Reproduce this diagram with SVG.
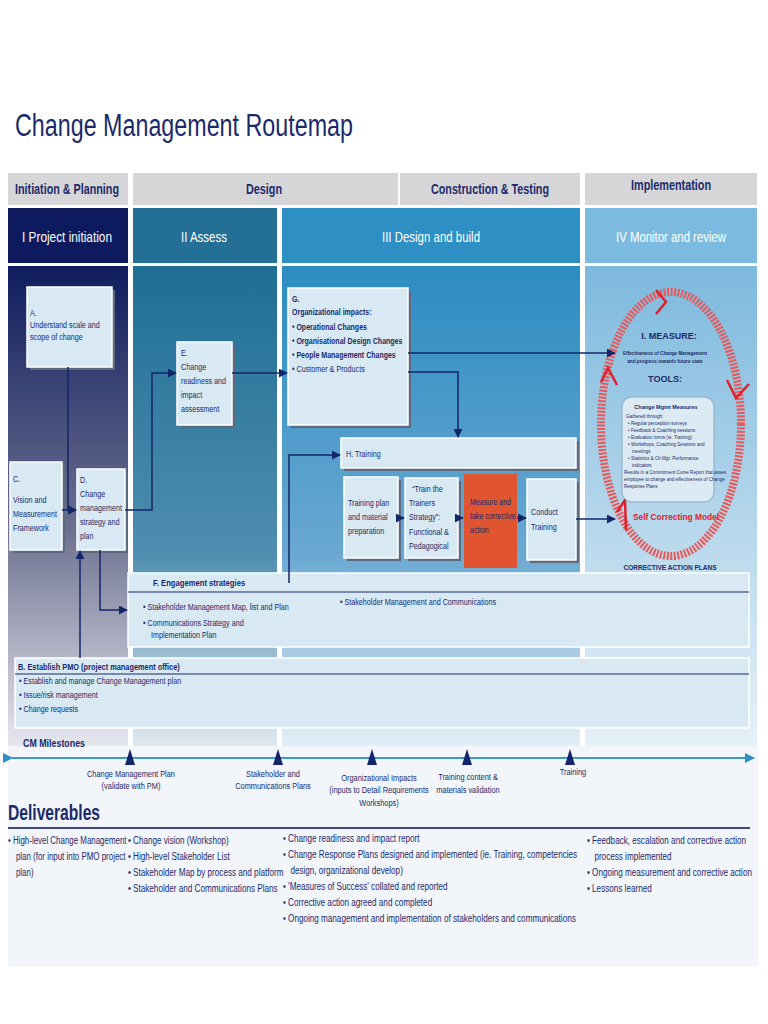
<svg xmlns="http://www.w3.org/2000/svg" width="768" height="1024" viewBox="0 0 768 1024">
<defs>
<style>
text{font-family:"Liberation Sans",Arial,sans-serif;}
.hd{font-size:15px;font-weight:bold;fill:#1b2a6b;text-anchor:middle}
.ph{font-size:15px;fill:#fff;text-anchor:middle}
.box{fill:#d8e9f3;stroke:#fff;stroke-width:1.5}
.sh{fill:#5d6b80}
.t{font-size:9px;fill:#1b2a6b}
.tb{font-size:9px;fill:#1b2a6b;font-weight:bold}
.c{fill:none;stroke:#13266a;stroke-width:1.5}
.ms{font-size:9.5px;fill:#1b2a6b;text-anchor:middle}
.dl{font-size:11px;fill:#1b2a6b}
</style>
<marker id="ar" viewBox="0 0 10 10" refX="9" refY="5" markerWidth="6" markerHeight="6" orient="auto"><path d="M0,0L10,5L0,10z" fill="#13266a"/></marker>
<marker id="ar2" viewBox="0 0 10 10" refX="9" refY="5" markerWidth="5" markerHeight="5" orient="auto"><path d="M0,0L10,5L0,10z" fill="#2e8fc4"/></marker>
<linearGradient id="g1" x1="0" y1="0" x2="0" y2="1"><stop offset="0" stop-color="#0f1d5e"/><stop offset="0.55" stop-color="#6d7190"/><stop offset="1" stop-color="#e6e7ee"/></linearGradient>
<linearGradient id="g2" x1="0" y1="0" x2="0" y2="1"><stop offset="0" stop-color="#1f6e94"/><stop offset="0.6" stop-color="#4f8eb0"/><stop offset="1" stop-color="#dfe8ef"/></linearGradient>
<linearGradient id="g3" x1="0" y1="0" x2="0" y2="1"><stop offset="0" stop-color="#2c8cc2"/><stop offset="0.6" stop-color="#6aa8d1"/><stop offset="1" stop-color="#e3eef6"/></linearGradient>
<linearGradient id="g4" x1="0" y1="0" x2="0" y2="1"><stop offset="0" stop-color="#7db9dd"/><stop offset="1" stop-color="#e6f1f8"/></linearGradient>
</defs>
<rect width="768" height="1024" fill="#fff"/>
<text x="15" y="136" font-size="31" fill="#1b2a6b" textLength="338" lengthAdjust="spacingAndGlyphs">Change Management Routemap</text>

<g id="headers">
<rect x="8" y="173" width="120" height="32" fill="#d6d6d8"/>
<rect x="133" y="173" width="265" height="32" fill="#d6d6d8"/>
<rect x="400" y="173" width="180" height="32" fill="#d6d6d8"/>
<rect x="585" y="173" width="172" height="32" fill="#d6d6d8"/>
<text x="67" y="194" class="hd" textLength="104" lengthAdjust="spacingAndGlyphs">Initiation &amp; Planning</text>
<text x="264" y="194" class="hd" textLength="36" lengthAdjust="spacingAndGlyphs">Design</text>
<text x="490" y="194" class="hd" textLength="118" lengthAdjust="spacingAndGlyphs">Construction &amp; Testing</text>
<text x="671" y="190" class="hd" textLength="80" lengthAdjust="spacingAndGlyphs">Implementation</text>
<rect x="8" y="208" width="120" height="55" fill="#0d1a5e"/>
<rect x="133" y="208" width="144" height="55" fill="#236f96"/>
<rect x="282" y="208" width="298" height="55" fill="#2e8fc4"/>
<rect x="585" y="208" width="172" height="55" fill="#7bbbe0"/>
<text x="67" y="242" class="ph" textLength="90" lengthAdjust="spacingAndGlyphs">I Project initiation</text>
<text x="204" y="242" class="ph" textLength="46" lengthAdjust="spacingAndGlyphs">II Assess</text>
<text x="431" y="242" class="ph" textLength="98" lengthAdjust="spacingAndGlyphs">III Design and build</text>
<text x="671" y="242" class="ph" textLength="110" lengthAdjust="spacingAndGlyphs">IV Monitor and review</text>
<rect x="8" y="266" width="120" height="480" fill="url(#g1)"/>
<rect x="133" y="266" width="144" height="480" fill="url(#g2)"/>
<rect x="282" y="266" width="298" height="480" fill="url(#g3)"/>
<rect x="585" y="266" width="172" height="480" fill="url(#g4)"/>
</g>

<g id="nodeA"><rect x="30" y="290" width="85" height="80" class="sh"/><rect x="27" y="287" width="85" height="80" class="box"/>
<text class="t" transform="translate(30,0) scale(0.8,1)"><tspan x="0" y="316">A.</tspan><tspan x="0" y="328">Understand scale and</tspan><tspan x="0" y="340">scope of change</tspan></text></g>
<g id="nodeC"><rect x="13" y="465" width="52" height="88" class="sh"/><rect x="10" y="462" width="52" height="88" class="box"/>
<text class="t" transform="translate(13,0) scale(0.8,1)"><tspan x="0" y="482">C.</tspan><tspan x="0" y="503">Vision and</tspan><tspan x="0" y="517">Measurement</tspan><tspan x="0" y="531">Framework</tspan></text></g>
<g id="nodeD"><rect x="80" y="472" width="48" height="81" class="sh"/><rect x="77" y="469" width="48" height="81" class="box"/>
<text class="t" transform="translate(80,0) scale(0.8,1)"><tspan x="0" y="483">D.</tspan><tspan x="0" y="497">Change</tspan><tspan x="0" y="511">management</tspan><tspan x="0" y="525">strategy and</tspan><tspan x="0" y="539">plan</tspan></text></g>
<g id="nodeE"><rect x="180" y="345" width="55" height="83" class="sh"/><rect x="177" y="342" width="55" height="83" class="box"/>
<text class="t" transform="translate(181,0) scale(0.8,1)"><tspan x="0" y="356">E.</tspan><tspan x="0" y="370">Change</tspan><tspan x="0" y="384">readiness and</tspan><tspan x="0" y="398">impact</tspan><tspan x="0" y="412">assessment</tspan></text></g>
<g id="nodeG"><rect x="291" y="291" width="120" height="137" class="sh"/><rect x="288" y="288" width="120" height="137" class="box"/>
<text class="tb" transform="translate(292,0) scale(0.78,1)"><tspan x="0" y="302">G.</tspan><tspan x="0" y="315">Organizational impacts:</tspan><tspan x="0" y="330">•  Operational Changes</tspan><tspan x="0" y="344">•  Organisational Design Changes</tspan><tspan x="0" y="358">•  People Management Changes</tspan></text>
<text class="t" transform="translate(292,0) scale(0.8,1)" x="0" y="372">•  Customer &amp; Products</text></g>
<g id="nodeH"><rect x="344" y="441" width="235" height="30" class="sh"/><rect x="341" y="438" width="235" height="30" class="box"/>
<text class="t" transform="translate(346,0) scale(0.8,1)" x="0" y="457">H. Training</text></g>
<g id="nodeTP"><rect x="347" y="480" width="54" height="81" class="sh"/><rect x="344" y="477" width="54" height="81" class="box"/>
<text class="t" transform="translate(348,0) scale(0.8,1)"><tspan x="0" y="506">Training plan</tspan><tspan x="0" y="520">and material</tspan><tspan x="0" y="534">preparation</tspan></text></g>
<g id="nodeTT"><rect x="408" y="481" width="53" height="80" class="sh"/><rect x="405" y="478" width="53" height="80" class="box"/>
<text class="t" transform="translate(409,0) scale(0.8,1)"><tspan x="4" y="492">“Train the</tspan><tspan x="0" y="506">Trainers</tspan><tspan x="0" y="520">Strategy”:</tspan><tspan x="0" y="535">Functional &amp;</tspan><tspan x="0" y="549">Pedagogical</tspan></text></g>
<g id="nodeM"><rect x="464" y="474" width="53" height="94" fill="#e0552f"/>
<text class="t" fill="#2a2a6a" transform="translate(470,0) scale(0.78,1)"><tspan x="0" y="505">Measure and</tspan><tspan x="0" y="519">take corrective</tspan><tspan x="0" y="533">action</tspan></text></g>
<g id="nodeCT"><rect x="530" y="482" width="49" height="81" class="sh"/><rect x="527" y="479" width="49" height="81" class="box"/>
<text class="t" transform="translate(531,0) scale(0.8,1)"><tspan x="0" y="515">Conduct</tspan><tspan x="0" y="530">Training</tspan></text></g>

<g id="measure">
<ellipse cx="671" cy="424" rx="70" ry="132" fill="none" stroke="#e8595a" stroke-width="8" stroke-dasharray="2 1.5"/>
<g fill="none" stroke="#e0202a" stroke-width="2.5">
<path d="M656,290 L666,302 L656,314"/><path d="M727,380 L736,398 L749,384"/><path d="M601,382 L608,368 L617,385"/><path d="M617,512 L625,500 L626,530"/>
</g>
<text x="669" y="339" font-size="9" fill="#1b2a6b" font-weight="bold" text-anchor="middle">I.  MEASURE:</text>
<text font-size="5.5" fill="#1b2a6b" font-weight="bold" text-anchor="middle" transform="translate(665,0) scale(0.85,1)"><tspan x="0" y="355">Effectiveness of Change Management</tspan><tspan x="0" y="363">and progress towards future state</tspan></text>
<text x="665" y="382" font-size="9" fill="#1b2a6b" font-weight="bold" text-anchor="middle">TOOLS:</text>
<rect x="622" y="397" width="92" height="105" rx="10" fill="#dceaf3" stroke="#8aaac8"/>
<text x="666" y="409" font-size="5.5" fill="#1b2a6b" font-weight="bold" text-anchor="middle">Change Mgmt Measures</text>
<text font-size="4.6" fill="#1b2a6b"><tspan x="626" y="418">Gathered through:</tspan><tspan x="628" y="425">• Regular perception surveys</tspan><tspan x="628" y="432">• Feedback &amp; Coaching sessions</tspan><tspan x="628" y="439">• Evaluation forms (ie. Training)</tspan><tspan x="628" y="446">• Workshops, Coaching Sessions and</tspan><tspan x="632" y="453">meetings</tspan><tspan x="628" y="460">• Statistics &amp; Ch Mgt. Performance</tspan><tspan x="632" y="467">indicators</tspan><tspan x="624" y="474">Results in a Commitment Curve Report that asses</tspan><tspan x="624" y="481">employee to change and effectiveness of Change</tspan><tspan x="624" y="488">Response Plans</tspan></text>
<text x="676" y="520" font-size="9" fill="#e0202a" font-weight="bold" text-anchor="middle" textLength="86" lengthAdjust="spacingAndGlyphs">Self Correcting Model</text>
<text x="670" y="570" font-size="6.5" fill="#1b2a6b" font-weight="bold" text-anchor="middle">CORRECTIVE ACTION PLANS</text>
</g>

<g id="nodeF"><rect x="128" y="573" width="621" height="74" class="box"/>
<line x1="128" y1="592" x2="749" y2="592" stroke="#1b2a6b" stroke-width="1.2"/>
<text x="153" y="586" class="tb" transform="translate(153,0) scale(0.85,1) translate(-153,0)">F. Engagement strategies</text>
<text class="t" transform="translate(143,0) scale(0.8,1)"><tspan x="0" y="610">•  Stakeholder Management Map, list and Plan</tspan><tspan x="0" y="626">•  Communications Strategy and</tspan><tspan x="10" y="638">Implementation Plan</tspan></text>
<text class="t" transform="translate(340,0) scale(0.8,1)" x="0" y="605">• Stakeholder Management and Communications</text></g>
<g id="nodeB"><rect x="15" y="658" width="734" height="70" class="box"/>
<line x1="15" y1="674" x2="749" y2="674" stroke="#1b2a6b" stroke-width="1.2"/>
<text class="tb" transform="translate(18,0) scale(0.82,1)" x="0" y="670">B. Establish PMO (project management office)</text>
<text class="t" transform="translate(19,0) scale(0.8,1)"><tspan x="0" y="684">•  Establish and manage Change Management plan</tspan><tspan x="0" y="698">•  Issue/risk management</tspan><tspan x="0" y="712">•  Change requests</tspan></text></g>

<g id="connectors">
<path class="c" d="M68,367 V510 H76" marker-end="url(#ar)"/>
<path class="c" d="M62,510 H76" marker-end="url(#ar)"/>
<path class="c" d="M125,510 H152 V373 H176" marker-end="url(#ar)"/>
<path class="c" d="M100,550 V610 H127" marker-end="url(#ar)"/>
<path class="c" d="M80,658 V551" marker-end="url(#ar)"/>
<path class="c" d="M232,373 H287" marker-end="url(#ar)"/>
<path class="c" d="M408,353 H615" marker-end="url(#ar)"/>
<path class="c" d="M408,372 H458 V437" marker-end="url(#ar)"/>
<path class="c" d="M289,583 V455 H340" marker-end="url(#ar)"/>
<path class="c" d="M398,518 H404" marker-end="url(#ar)"/>
<path class="c" d="M458,518 H463" marker-end="url(#ar)"/>
<path class="c" d="M517,518 H526" marker-end="url(#ar)"/>
<path class="c" d="M576,519 H615" marker-end="url(#ar)"/>
</g>

<g id="milestones">
<rect x="8" y="746" width="750" height="220" fill="#f2f5f9"/>
<text x="23" y="747" font-size="10" font-weight="bold" fill="#1b2a6b" textLength="62" lengthAdjust="spacingAndGlyphs">CM Milestones</text>
<line x1="12" y1="758" x2="754" y2="758" stroke="#3a9ac8" stroke-width="2" marker-start="url(#ar2)" marker-end="url(#ar2)"/>
<g fill="#13266a"><path d="M125,765 L130,749 L135,765z"/><path d="M273,765 L278,749 L283,765z"/><path d="M367,765 L372,749 L377,765z"/><path d="M462,765 L467,749 L472,765z"/><path d="M565,765 L570,749 L575,765z"/></g>
<text class="ms" transform="translate(131,0) scale(0.78,1)"><tspan x="0" y="777">Change Management Plan</tspan><tspan x="0" y="789">(validate with PM)</tspan></text>
<text class="ms" transform="translate(273,0) scale(0.78,1)"><tspan x="0" y="777">Stakeholder and</tspan><tspan x="0" y="789">Communications Plans</tspan></text>
<text class="ms" transform="translate(379,0) scale(0.78,1)"><tspan x="0" y="781">Organizational Impacts</tspan><tspan x="0" y="793">(inputs to Detail Requirements</tspan><tspan x="0" y="806">Workshops)</tspan></text>
<text class="ms" transform="translate(468,0) scale(0.78,1)"><tspan x="0" y="780">Training content &amp;</tspan><tspan x="0" y="793">materials validation</tspan></text>
<text class="ms" transform="translate(573,0) scale(0.78,1)" x="0" y="775">Training</text>
</g>

<g id="deliverables">
<text x="8" y="820" font-size="22" font-weight="bold" fill="#1b2a6b" textLength="92" lengthAdjust="spacingAndGlyphs">Deliverables</text>
<line x1="8" y1="828" x2="750" y2="828" stroke="#3b4a78" stroke-width="2"/>
<text class="dl" transform="translate(8,0) scale(0.72,1)"><tspan x="0" y="844">•  High-level Change Management</tspan><tspan x="11" y="860">plan (for input into PMO project</tspan><tspan x="11" y="876">plan)</tspan></text>
<text class="dl" transform="translate(128,0) scale(0.74,1)"><tspan x="0" y="844">•  Change vision (Workshop)</tspan><tspan x="0" y="860">•  High-level Stakeholder List</tspan><tspan x="0" y="876">•  Stakeholder Map by process and platform</tspan><tspan x="0" y="892">•  Stakeholder and Communications Plans</tspan></text>
<text class="dl" transform="translate(283,0) scale(0.74,1)"><tspan x="0" y="842">•  Change readiness and impact report</tspan><tspan x="0" y="858">•  Change Response Plans designed and implemented (ie. Training, competencies</tspan><tspan x="10" y="874">design, organizational develop)</tspan><tspan x="0" y="890">•  'Measures of Success' collated and reported</tspan><tspan x="0" y="906">•  Corrective action agreed and completed</tspan><tspan x="0" y="922">•  Ongoing management and implementation of stakeholders and communications</tspan></text>
<text class="dl" transform="translate(587,0) scale(0.74,1)"><tspan x="0" y="844">•  Feedback, escalation and corrective action</tspan><tspan x="10" y="860">process implemented</tspan><tspan x="0" y="876">•  Ongoing measurement and corrective action</tspan><tspan x="0" y="892">•  Lessons learned</tspan></text>
</g>
</svg>
